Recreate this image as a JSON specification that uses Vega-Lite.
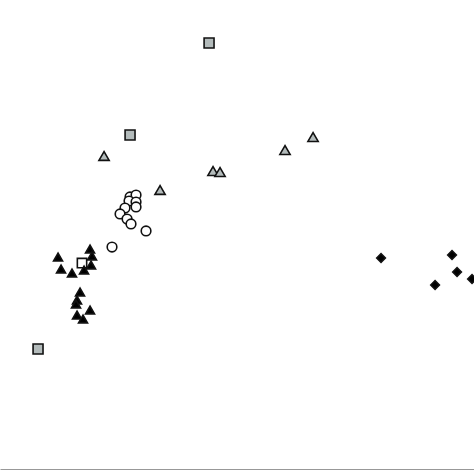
{
  "$schema": "https://vega.github.io/schema/vega-lite/v6.json",
  "width": 474,
  "height": 470,
  "padding": 0,
  "autosize": {"type": "none"},
  "background": "white",
  "config": {"view": {"stroke": null}},
  "data": {"values": [
    {"g": "tri_gray", "x": 1.514, "y": 4.618},
    {"g": "tri_gray", "x": 2.337, "y": 4.118},
    {"g": "tri_gray", "x": 3.115, "y": 4.397},
    {"g": "tri_gray", "x": 3.218, "y": 4.382},
    {"g": "tri_gray", "x": 4.173, "y": 4.706},
    {"g": "tri_gray", "x": 4.585, "y": 4.897},
    {"g": "sq_gray", "x": 3.057, "y": 6.279},
    {"g": "sq_gray", "x": 1.896, "y": 4.926},
    {"g": "sq_gray", "x": 0.544, "y": 1.779},
    {"g": "circle", "x": 1.896, "y": 4.015},
    {"g": "circle", "x": 1.984, "y": 4.044},
    {"g": "circle", "x": 1.881, "y": 3.956},
    {"g": "circle", "x": 1.984, "y": 3.941},
    {"g": "circle", "x": 1.984, "y": 3.868},
    {"g": "circle", "x": 1.822, "y": 3.853},
    {"g": "circle", "x": 1.749, "y": 3.765},
    {"g": "circle", "x": 1.852, "y": 3.691},
    {"g": "circle", "x": 1.910, "y": 3.618},
    {"g": "circle", "x": 2.131, "y": 3.515},
    {"g": "circle", "x": 1.631, "y": 3.279},
    {"g": "sq_open", "x": 1.190, "y": 3.044},
    {"g": "tri_black", "x": 0.838, "y": 3.132},
    {"g": "tri_black", "x": 0.882, "y": 2.956},
    {"g": "tri_black", "x": 1.043, "y": 2.897},
    {"g": "tri_black", "x": 1.308, "y": 3.250},
    {"g": "tri_black", "x": 1.337, "y": 3.147},
    {"g": "tri_black", "x": 1.323, "y": 3.015},
    {"g": "tri_black", "x": 1.220, "y": 2.941},
    {"g": "tri_black", "x": 1.161, "y": 2.618},
    {"g": "tri_black", "x": 1.117, "y": 2.500},
    {"g": "tri_black", "x": 1.102, "y": 2.441},
    {"g": "tri_black", "x": 1.308, "y": 2.353},
    {"g": "tri_black", "x": 1.117, "y": 2.279},
    {"g": "tri_black", "x": 1.205, "y": 2.221},
    {"g": "diamond", "x": 5.584, "y": 3.118},
    {"g": "diamond", "x": 6.627, "y": 3.162},
    {"g": "diamond", "x": 6.701, "y": 2.912},
    {"g": "diamond", "x": 6.378, "y": 2.721},
    {"g": "diamond", "x": 6.921, "y": 2.809}
  ]},
  "mark": {"type": "point", "filled": true, "stroke": "#111111", "strokeWidth": 1.6, "opacity": 1},
  "encoding": {
    "x": {"field": "x", "type": "quantitative",
      "scale": {"domain": [-0.015, 6.95], "nice": false, "zero": false},
      "axis": {"labels": false, "title": null, "grid": false, "values": [0, 1, 2, 3, 4, 5, 6],
        "domainColor": "#333333", "domainWidth": 2.2, "domainOpacity": 1, "tickColor": "#333333", "tickWidth": 2, "tickSize": 6, "tickOpacity": 1}},
    "y": {"field": "y", "type": "quantitative",
      "scale": {"domain": [0, 6.912], "nice": false, "zero": false},
      "axis": null},
    "shape": {"field": "g", "type": "nominal", "legend": null,
      "scale": {"domain": ["tri_gray", "sq_gray", "circle", "sq_open", "tri_black", "diamond"],
        "range": ["triangle-up", "square", "circle", "square", "triangle-up", "diamond"]}},
    "fill": {"field": "g", "type": "nominal", "legend": null,
      "scale": {"domain": ["tri_gray", "sq_gray", "circle", "sq_open", "tri_black", "diamond"],
        "range": ["#b3bbbb", "#b3bbbb", "#ffffff", "#ffffff", "#000000", "#000000"]}},
    "size": {"field": "g", "type": "nominal", "legend": null,
      "scale": {"domain": ["tri_gray", "sq_gray", "circle", "sq_open", "tri_black", "diamond"],
        "range": [105, 75, 85, 85, 150, 80]}}
  }
}
